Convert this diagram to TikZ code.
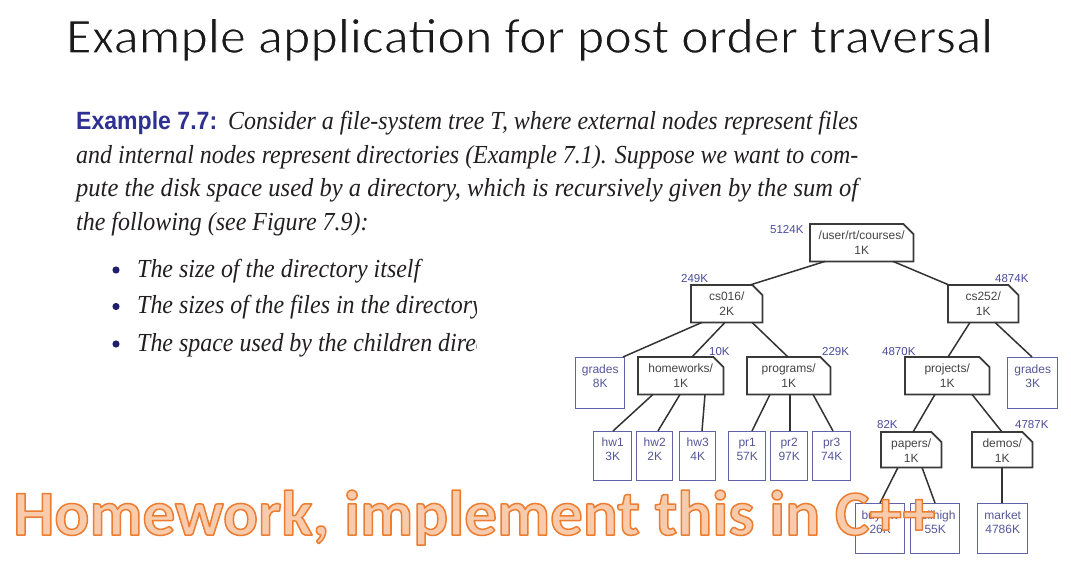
\documentclass[tikz,border=0pt]{standalone}
\usepackage{fontspec}
\setmainfont{Liberation Serif}
\newfontfamily\calibri{Carlito}
\newfontfamily\arial{Liberation Sans}
\usepackage{graphicx}
\definecolor{navy}{HTML}{2E3192}
\definecolor{bodytext}{HTML}{231F20}
\definecolor{sizeblue}{HTML}{4A4C9C}
\definecolor{leafline}{HTML}{6163A8}
\definecolor{leaftext}{HTML}{55579A}
\definecolor{dirline}{HTML}{3A3A3A}
\definecolor{dirtext}{HTML}{444444}
\definecolor{edgecol}{HTML}{333333}
\definecolor{hwline}{HTML}{ED7D31}
\definecolor{hwfill}{HTML}{F8CBAD}
\definecolor{bulletcol}{HTML}{1F1F6E}
\definecolor{titlecol}{HTML}{1A1A1A}
\newcommand\treefont{\arial\fontsize{12}{14.5}\selectfont}
\newcommand\twoline[2]{\begin{tabular}[b]{@{}c@{}}#1\\#2\end{tabular}}
\newcommand\tedge[4]{\draw[edgeline] ([xshift=#2pt]#1.south west) -- ([xshift=#4pt]#3.north west);}
\newcommand\outlinetext[1]{{\color{hwfill}\special{pdf:literal direct 0.929 0.490 0.192 RG 1.5 w 1 j 2 Tr}#1\special{pdf:literal direct 0 Tr}}}
\newcommand\lighttext[1]{{\color{titlecol}\special{pdf:literal direct 1 1 1 RG 1.1 w 1 j 2 Tr}#1\special{pdf:literal direct 0 Tr}}}
\newsavebox\measurebox
\tikzset{
  dirnode/.style={anchor=north west, inner sep=0pt, text height=30pt, text depth=7pt, font=\treefont, text=dirtext},
  leafnode/.style={anchor=north west, inner sep=0pt, text height=30pt, text depth=20pt, font=\treefont, text=leaftext, draw=leafline, line width=1.4pt},
  dirline/.style={draw=dirline, line width=1.7pt, line join=miter},
  edgeline/.style={draw=edgecol, line width=1.5pt},
  sizelabel/.style={anchor=base west, inner sep=0pt, font=\arial\fontsize{11.5}{13}\selectfont, text=sizeblue},
  textline/.style={anchor=base west, inner sep=0pt, text=bodytext},
}
\begin{document}
\sbox\measurebox{\fontsize{26}{30}\selectfont\itshape and internal nodes represent directories (Example 7.1). Suppose we want to com-}%
\pgfmathsetmacro\hratio{782/\the\wd\measurebox}%
\begin{tikzpicture}[x=1pt,y=-1pt]
\useasboundingbox (0,0) rectangle (1071,564);
\fill[white] (0,0) rectangle (1071,564);

% title
\node[anchor=base west, inner sep=0pt] (title) at (66,53)
  {\resizebox{927pt}{\height}{\calibri\fontsize{50}{60}\selectfont\lighttext{Example application for post order traversal}}};

% paragraph
\begin{scope}
\clip (0,0) -- (1071,0) -- (1071,204) -- (476,204) -- (476,564) -- (0,564) -- cycle;
\node[textline, text=navy] (ex) at (76,130)
  {\resizebox{141pt}{\height}{\arial\bfseries\fontsize{25}{30}\selectfont Example 7.7:}};
\node[textline] (l1) at (228,130)
  {\resizebox{630pt}{\height}{\fontsize{26}{30}\selectfont\itshape Consider a file-system tree T, where external nodes represent files}};
\node[textline] (l2) at (76,163.5)
  {\resizebox{782pt}{\height}{\fontsize{26}{30}\selectfont\itshape and internal nodes represent directories (Example 7.1). Suppose we want to com-}};
\node[textline] (l3) at (76,197)
  {\resizebox{782pt}{\height}{\fontsize{26}{30}\selectfont\itshape pute the disk space used by a directory, which is recursively given by the sum of}};
\node[textline] (l4) at (76,230.5)
  {\scalebox{\hratio}[1]{\fontsize{26}{30}\selectfont\itshape the following (see Figure 7.9):}};
\fill[bulletcol] (116,270) circle (3.6);
\fill[bulletcol] (116,306.5) circle (3.6);
\fill[bulletcol] (116,344) circle (3.6);
\node[textline] (b1) at (137,277)
  {\scalebox{\hratio}[1]{\fontsize{26}{30}\selectfont\itshape The size of the directory itself}};
\node[textline] (b2) at (137,313.5)
  {\scalebox{\hratio}[1]{\fontsize{26}{30}\selectfont\itshape The sizes of the files in the directory}};
\node[textline] (b3) at (137,351)
  {\scalebox{\hratio}[1]{\fontsize{26}{30}\selectfont\itshape The space used by the children direc}};
\end{scope}

% directory nodes
\node[dirnode, minimum width=103pt] (root) at (810,224) {\twoline{/user/rt/courses/}{1K}};
\node[dirnode, minimum width=71pt] (cs016) at (691,285) {\twoline{cs016/}{2K}};
\node[dirnode, minimum width=70pt] (cs252) at (948,285) {\twoline{cs252/}{1K}};
\node[dirnode, minimum width=85pt] (homeworks) at (638,357) {\twoline{homeworks/}{1K}};
\node[dirnode, minimum width=83pt] (programs) at (747,357) {\twoline{programs/}{1K}};
\node[dirnode, minimum width=84pt] (projects) at (905,357) {\twoline{projects/}{1K}};
\node[dirnode, minimum width=60pt, text depth=5pt] (papers) at (881,432) {\twoline{papers/}{1K}};
\node[dirnode, minimum width=60pt, text depth=5pt] (demos) at (972,432) {\twoline{demos/}{1K}};
\foreach \n in {root,cs016,cs252,homeworks,programs,projects,papers,demos}{
  \draw[dirline] (\n.south west) -- (\n.north west) -- ([xshift=-10pt]\n.north east)
    -- ([yshift=-10pt]\n.north east) -- (\n.south east) -- cycle;
}

% leaf nodes
\node[leafnode, minimum width=49pt, text depth=21pt] (grades1) at (575,357) {\twoline{grades}{8K}};
\node[leafnode, minimum width=50pt, text depth=21pt] (grades2) at (1007,357) {\twoline{grades}{3K}};
\node[leafnode, minimum width=38pt, text height=29pt] (hw1) at (593,431) {\twoline{hw1}{3K}};
\node[leafnode, minimum width=36pt, text height=29pt] (hw2) at (636,431) {\twoline{hw2}{2K}};
\node[leafnode, minimum width=36pt, text height=29pt] (hw3) at (679,431) {\twoline{hw3}{4K}};
\node[leafnode, minimum width=37pt, text height=29pt] (pr1) at (728,431) {\twoline{pr1}{57K}};
\node[leafnode, minimum width=37pt, text height=29pt] (pr2) at (770,431) {\twoline{pr2}{97K}};
\node[leafnode, minimum width=38pt, text height=29pt] (pr3) at (812,431) {\twoline{pr3}{74K}};
\node[leafnode, minimum width=49pt] (buylow) at (855,503) {\twoline{buylow}{26K}};
\node[leafnode, minimum width=49pt] (sellhigh) at (910,503) {\twoline{sellhigh}{55K}};
\node[leafnode, minimum width=50pt] (market) at (977,503) {\twoline{market}{4786K}};

% edges
\tedge{root}{15}{cs016}{59}
\tedge{root}{83}{cs252}{1}
\tedge{cs016}{11}{grades1}{48}
\tedge{cs016}{34}{homeworks}{54}
\tedge{cs016}{61}{programs}{41}
\tedge{cs252}{22}{projects}{43}
\tedge{cs252}{47}{grades2}{25}
\tedge{homeworks}{15}{hw1}{20}
\tedge{homeworks}{42}{hw2}{22}
\tedge{homeworks}{67}{hw3}{23}
\tedge{programs}{23}{pr1}{24}
\tedge{programs}{43}{pr2}{20}
\tedge{programs}{66}{pr3}{21}
\tedge{projects}{30}{papers}{32}
\tedge{projects}{67}{demos}{30}
\tedge{papers}{17}{buylow}{25}
\tedge{papers}{41}{sellhigh}{25}
\tedge{demos}{30}{market}{25}

% size labels
\node[sizelabel] (s1) at (770,234) {5124K};
\node[sizelabel] (s2) at (681,283) {249K};
\node[sizelabel] (s3) at (995,283) {4874K};
\node[sizelabel] (s4) at (709,355) {10K};
\node[sizelabel] (s5) at (822,355) {229K};
\node[sizelabel] (s6) at (882,355) {4870K};
\node[sizelabel] (s7) at (877,428) {82K};
\node[sizelabel] (s8) at (1015,428) {4787K};

% homework banner
\node[anchor=base west, inner sep=0pt] (hw) at (13,535)
  {\resizebox{922pt}{\height}{\calibri\bfseries\fontsize{64}{70}\selectfont\outlinetext{Homework, implement this in C++}}};
\end{tikzpicture}
\end{document}
